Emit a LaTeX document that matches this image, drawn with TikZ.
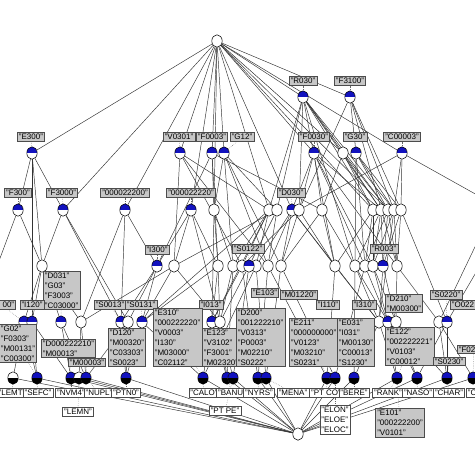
\documentclass[tikz,border=0pt]{standalone}
\usepackage{fontspec}
\setmainfont{Liberation Sans}
\usepackage{tikz}
\usetikzlibrary{shapes.geometric,backgrounds}
\definecolor{cblue}{RGB}{18,18,190}
\newcommand{\lblfont}{\fontsize{6}{7.5}\selectfont}

\begin{document}
\begin{tikzpicture}[x=0.75pt,y=0.75pt,yscale=-1,xscale=1,
  cn/.style={ellipse,draw,fill=white,line width=0.4pt,inner sep=0pt,minimum width=7.8pt,minimum height=9.3pt},
  att/.style={cn,path picture={\fill[cblue] (path picture bounding box.west) rectangle (path picture bounding box.north east);}},
  obj/.style={cn,path picture={\fill[black] (path picture bounding box.west) rectangle (path picture bounding box.south east);}},
  attobj/.style={cn,path picture={\fill[cblue] (path picture bounding box.west) rectangle (path picture bounding box.north east);
    \fill[black] (path picture bounding box.west) rectangle (path picture bounding box.south east);}},
  alab/.style={draw=black!70,fill=black!22,inner sep=1.2pt,font=\lblfont,align=left},
  olab/.style={draw=black!70,fill=white,inner sep=1.2pt,font=\lblfont,align=left},
  edge/.style={black!80,line width=0.35pt},
  tie/.style={black!60,line width=0.35pt,densely dotted}]
\useasboundingbox (0,0) rectangle (474,474);

% Concepts
\node[cn] (top) at (217,41) {};
\node[att] (nR030) at (303,97) {};
\node[att] (nF3100) at (350,97) {};
% row 2
\node[att] (nE300) at (32,153) {};
\node[att] (nV0301) at (180,153) {};
\node[att] (nF0003) at (212,153) {};
\node[att] (nG12) at (224,153) {};
\node[att] (nF0030) at (314,153) {};
\node[cn] (nx1) at (343,153) {};
\node[att] (nG30) at (356,153) {};
\node[att] (nC00003) at (402,153) {};
% row 3
\node[att] (nF300) at (18,210) {};
\node[att] (nF3000) at (63,210) {};
\node[att] (n22200) at (125,210) {};
\node[att] (n22220) at (191,210) {};
\node[cn] (nx2) at (214,210) {};
\node[cn] (nx3) at (269,210) {};
\node[cn] (nx4) at (277,210) {};
\node[att] (nD030) at (292,210) {};
\node[cn] (nx5) at (299,210) {};
\node[cn] (nx6) at (322,210) {};
\node[cn] (nx7) at (373,210) {};
\node[cn] (nx8) at (381,210) {};
\node[cn] (nx9) at (388,210) {};
\node[cn] (nx10) at (394,210) {};
\node[cn] (nx11) at (401,210) {};
% row 4
\node[cn] (nx12) at (42,266) {};
\node[att] (nI300) at (157,266) {};
\node[cn] (nx13) at (174,266) {};
\node[cn] (nx14) at (218,266) {};
\node[cn] (nx15) at (233,266) {};
\node[cn] (nx16) at (242,266) {};
\node[cn] (nx17) at (256,266) {};
\node[att] (nS0122) at (249,266) {};
\node[cn] (nx18) at (268,266) {};
\node[cn] (nx19) at (281,266) {};
\node[cn] (nx20) at (335,266) {};
\node[cn] (nx21) at (355,266) {};
\node[cn] (nx22) at (365,266) {};
\node[cn] (nx23) at (373,266) {};
\node[att] (nR003) at (383,266) {};
\node[cn] (nx24) at (397,266) {};
% row 5
\node[att] (nE1) at (24,322) {};
\node[att] (nI120) at (32,322) {};
\node[att] (nD031) at (61,322) {};
\node[cn] (nx25) at (81,322) {};
\node[att] (nS0013) at (121,322) {};
\node[cn] (nx26) at (128,322) {};
\node[att] (nS0131) at (142,322) {};
\node[att] (nI013) at (212,322) {};
\node[cn] (nx27) at (220,322) {};
\node[cn] (nx28) at (379,322) {};
\node[att] (nD210) at (388,322) {};
\node[cn] (nx29) at (396,322) {};
\node[cn] (nx30) at (439,322) {};
\node[att] (nS0220) at (447,322) {};
% objects
\node[obj] (oLEMT) at (13,378) {};
\node[attobj] (oSEFC) at (37,378) {};
\node[attobj] (oNVM4) at (71,378) {};
\node[obj] (oLEMN) at (79,378) {};
\node[attobj] (oNUPL) at (86,378) {};
\node[attobj] (oPTN0) at (126,378) {};
\node[attobj] (oCALO) at (203,378) {};
\node[attobj] (oBANU) at (227,378) {};
\node[attobj] (oPTPE) at (233,378) {};
\node[attobj] (oNYRS) at (258,378) {};
\node[attobj] (oMENA) at (266,378) {};
\node[attobj] (oPTCO) at (327,378) {};
\node[attobj] (oELO) at (335,378) {};
\node[attobj] (oBERE) at (354,378) {};
\node[attobj] (oRANK) at (397,378) {};
\node[attobj] (oNASO) at (417,378) {};
\node[attobj] (oCHAR) at (447,378) {};
\node[attobj] (oCHA) at (473,378) {};
\node[cn] (bot) at (298,434) {};
\coordinate (cL1) at (-10,285);
\coordinate (cR1) at (495,205);
\coordinate (cR2) at (495,240);

% Attribute labels
\node[alab] (lR030) at (303,81) {"R030"};
\node[alab] (lF3100) at (350,81) {"F3100"};
\node[alab] (lE300) at (31,137) {"E300"};
\node[alab] (lV0301) at (179,137) {"V0301"};
\node[alab] (lF0003) at (212,137) {"F0003"};
\node[alab] (lG12) at (242,137) {"G12"};
\node[alab] (lF0030) at (314,137) {"F0030"};
\node[alab] (lG30) at (355,137) {"G30"};
\node[alab] (lC00003) at (402,137) {"C00003"};
\node[alab] (lF300) at (18,193) {"F300"};
\node[alab] (lF3000) at (62,193) {"F3000"};
\node[alab] (l22200) at (125,193) {"000022200"};
\node[alab] (l22220) at (191,193) {"000022220"};
\node[alab] (lD030) at (291,193) {"D030"};
\node[alab] (lI300) at (157,250) {"I300"};
\node[alab] (lS0122) at (248,249) {"S0122"};
\node[alab] (lR003) at (384,249) {"R003"};
\node[alab,anchor=south west] (bD031) at (43,310) {"D031"\\"G03"\\"F3003"\\"C03000"};
\node[alab,anchor=east] (l00) at (16,305) {\hspace{10pt}00"};
\node[alab] (lI120) at (32,305) {"I120"};
\node[alab] (lS0013) at (110,305) {"S0013"};
\node[alab] (lS0131) at (141,305) {"S0131"};
\node[alab] (lI013) at (211,305) {"I013"};
\node[alab] (lE103) at (265,293) {"E103"};
\node[alab] (lM01220) at (299,295) {"M01220"};
\node[alab] (lI110) at (328,305) {"I110"};
\node[alab] (lI310) at (364,305) {"I310"};
\node[alab,anchor=south west] (bD210) at (385,313) {"D210"\\"M00300"};
\node[alab] (lS0220) at (446,295) {"S0220"};
\node[alab,anchor=west] (lO022) at (450,305) {"O022\hspace{10pt}};
% Attribute boxes
\node[alab,anchor=south west] (bG02) at (-1,363) {"G02"\\"F0303"\\"M00131"\\"C00300"};
\node[alab,anchor=south west] (bD0002) at (41,358) {"D000222210"\\"M00013"};
\node[alab,anchor=south west] (bM00003) at (68,367) {"M00003"};
\node[alab,anchor=south west] (bD120) at (108,367) {"D120"\\"M00320"\\"C03303"\\"S0023"};
\node[alab,anchor=south west] (bE310) at (153,367) {"E310"\\"000222220"\\"V0003"\\"I130"\\"M03000"\\"C02112"};
\node[alab,anchor=south west] (bE123) at (202,367) {"E123"\\"V3102"\\"F3001"\\"M02320"};
\node[alab,anchor=south west] (bD200) at (236,367) {"D200"\\"001222210"\\"V0313"\\"P0003"\\"M02210"\\"S0222"};
\node[alab,anchor=south west] (bE211) at (289,367) {"E211"\\"000000000"\\"V0123"\\"M03210"\\"S0231"};
\node[alab,anchor=south west] (bE031) at (337,367) {"E031"\\"I031"\\"M00130"\\"C00013"\\"S1230"};
\node[alab,anchor=south west] (bE122) at (385,366) {"E122"\\"002222221"\\"V0103"\\"C00012"};
\node[alab,anchor=south west] (lS0230) at (433,366) {"S0230"};
\node[alab,anchor=south west] (lF02) at (457,354) {"F02\hspace{10pt}};
\node[alab] (bE101) at (400,423) {"E101"\\"000222200"\\"V0101"};

% Object labels
\node[olab] (tLEMT) at (12,393) {"LEMT"};
\node[olab] (tSEFC) at (38,393) {"SEFC"};
\node[olab] (tNVM4) at (71,393) {"NVM4"};
\node[olab] (tNUPL) at (99,393) {"NUPL"};
\node[olab] (tPTN0) at (126,393) {"PTN0"};
\node[olab] (tLEMN) at (78,412) {"LEMN"};
\node[olab] (tCALO) at (204,393) {"CALO"};
\node[olab] (tBANU) at (232,393) {"BANU"};
\node[olab] (tNYRS) at (259,393) {"NYRS"};
\node[olab] (tMENA) at (293,393) {"MENA"};
\node[olab] (tPTPE) at (225,411) {"PT PE"};
\node[olab] (tPTCO) at (326,393) {"PT CO"};
\node[olab] (tBERE) at (354,393) {"BERE"};
\node[olab] (tRANK) at (388,393) {"RANK"};
\node[olab] (tNASO) at (418,393) {"NASO"};
\node[olab] (tCHAR) at (449,393) {"CHAR"};
\node[olab,anchor=west] (tCHA) at (466,393) {"CHA\hspace{8pt}};
\node[olab] (tELO) at (335,420) {"ELON"\\"ELOE"\\"ELOC"};

\begin{scope}[on background layer]
% lattice lines
\foreach \a/\b in {top/nR030,top/nF3100,top/nE300,top/nF3000,top/n22200,top/nV0301,top/nF0003,top/nG12,
  top/n22220,top/nx2,top/nx3,top/nD030,top/nF0030,top/nx1,top/nC00003,top/nx7,top/nx9,
  nR030/nx3,nR030/nx4,nR030/nx5,nR030/nx1,nR030/nx9,nR030/nx10,nR030/nx20,nR030/nx7,nR030/nx8,nR030/nx21,
  nF3100/nx5,nF3100/nG30,nF3100/nx10,nF3100/nx11,nF3100/nx24,
  nE300/nF300,nE300/nF3000,nE300/nx12,nE300/nI120,
  nV0301/nx13,nV0301/nx3,nV0301/nx16,nV0301/nx18,
  nF0003/nx2,nF0003/nx14,nF0003/nx6,nF0003/nI300,
  nG12/nx2,nG12/nx4,nG12/nx15,nG12/nx18,nG12/nx19,
  nF0030/nD030,nF0030/nx5,nF0030/nx6,nF0030/nx8,nF0030/nx22,nF0030/nx23,nF0030/nx24,
  nx1/nx7,nx1/nx8,nx1/nx9,nx1/nx6,
  nG30/nx10,nG30/nx11,nG30/nx9,nG30/nx21,nG30/nx22,
  nC00003/nx11,nC00003/nx10,nC00003/nx5,nC00003/cR1}
  \draw[edge] (\a) -- (\b);
\foreach \a/\b in {nF300/nx12,nF300/cL1,
  nF3000/nx12,nF3000/nS0013,nF3000/nx26,
  n22200/nI300,n22200/nx25,n22200/nS0013,
  n22220/nI300,n22220/nx14,n22220/nx13,n22220/nx27,
  nx2/nx14,nx2/nx15,nx2/nI013,
  nx3/nx15,nx3/nx16,nx3/nx17,nx3/nI013,nx3/nS0131,
  nx4/nS0122,nx4/nx18,nx4/nx13,
  nD030/nx17,nD030/nx19,nD030/nx18,nD030/nx20,nD030/nx28,
  nx5/nx19,nx5/nx20,nx5/nx16,
  nx6/nx19,nx6/nx21,nx6/nx20,
  nx7/nx22,nx7/nx23,nx7/nx20,
  nx8/nx23,nx8/nR003,nx8/nx21,
  nx9/nR003,nx9/nx24,nx9/nx22,
  nx10/nx24,nx10/nx23,nx10/nx28,
  nx11/nx24,nx11/nR003,nx11/nS0220,
  cR1/nx30,cR2/nS0220}
  \draw[edge] (\a) -- (\b);
\foreach \a/\b in {nx12/nE1,nx12/nI120,nx12/nD031,nx12/nx25,
  nI300/nS0013,nI300/nx26,nI300/nS0131,
  nx13/nS0131,nx13/nx25,nx13/nx27,
  nx14/nI013,nx14/nx27,nx14/nS0131,
  nx15/nx27,nx15/oBANU,
  nx16/nI013,nx16/oNYRS,
  nS0122/nx27,nS0122/oPTPE,
  nx17/oMENA,nx17/oCALO,
  nx18/oNYRS,nx18/oPTCO,
  nx19/oMENA,nx19/oELO,
  nx20/nx28,nx20/oPTCO,
  nx21/nx28,nx21/nD210,nx21/oBERE,
  nx22/nD210,nx22/oELO,
  nx23/nx29,nx23/nD210,
  nR003/nx29,nR003/nx28,
  nx24/nx29,nx24/nx30,
  nE1/oLEMT,nE1/oSEFC,
  nI120/oSEFC,nI120/oNVM4,
  nD031/oNVM4,nD031/oNUPL,
  nx25/oLEMN,nx25/oNUPL,
  nS0013/oPTN0,
  nx26/oPTN0,nx26/oNUPL,
  nS0131/oPTN0,nS0131/oCALO,
  nI013/oCALO,nI013/oBANU,
  nx27/oBANU,nx27/oPTPE,
  nx28/oRANK,nx28/oBERE,
  nD210/oRANK,nD210/oNASO,
  nx29/oNASO,nx29/oCHAR,
  nx30/oCHAR,nx30/oCHA,
  nS0220/oCHAR,nS0220/oNASO}
  \draw[edge] (\a) -- (\b);
\foreach \o in {oLEMT,oSEFC,oNVM4,oLEMN,oNUPL,oPTN0,oCALO,oBANU,oPTPE,oNYRS,oMENA,
  oPTCO,oELO,oBERE,oRANK,oNASO,oCHAR,oCHA}
  \draw[edge] (\o) -- (bot);
% label ties
\foreach \l/\n in {lR030/nR030,lF3100/nF3100,lE300/nE300,lV0301/nV0301,lF0003/nF0003,lG12/nG12,
  lF0030/nF0030,lG30/nG30,lC00003/nC00003,lF300/nF300,lF3000/nF3000,l22200/n22200,
  l22220/n22220,lD030/nD030,lI300/nI300,lS0122/nS0122,lR003/nR003,bD031/nD031,
  l00/nE1,lI120/nI120,lS0013/nS0013,lS0131/nS0131,lI013/nI013,bD210/nD210,lS0220/nS0220,
  bG02/oSEFC,bD0002/oNVM4,bM00003/oNUPL,bD120/oPTN0,bE310/oCALO,bE123/oBANU,bD200/oNYRS,
  bE211/oPTCO,bE031/oBERE,bE122/oRANK,lS0230/oCHAR,lF02/oCHA,
  tLEMT/oLEMT,tSEFC/oSEFC,tNVM4/oNVM4,tNUPL/oNUPL,tPTN0/oPTN0,tLEMN/oLEMN,tCALO/oCALO,
  tBANU/oBANU,tNYRS/oNYRS,tMENA/oMENA,tPTPE/oPTPE,tPTCO/oPTCO,tBERE/oBERE,tRANK/oRANK,
  tNASO/oNASO,tCHAR/oCHAR,tCHA/oCHA,tELO/oELO,bE101/oRANK}
  \draw[tie] (\l) -- (\n);
\end{scope}
\end{tikzpicture}
\end{document}
